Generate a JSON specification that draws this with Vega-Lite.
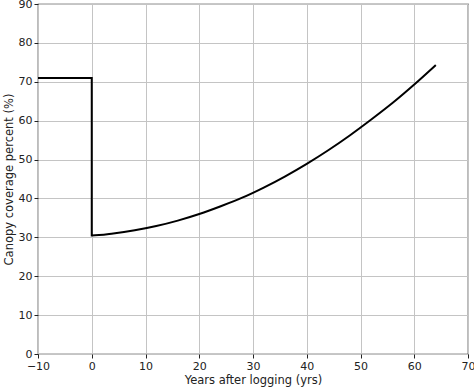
{
  "$schema": "https://vega.github.io/schema/vega-lite/v6.json",
  "width": 430,
  "height": 350,
  "autosize": {"type": "none"},
  "padding": {"left": 38, "top": 4, "right": 6, "bottom": 35},
  "background": "white",
  "config": {
    "view": {"stroke": "#222", "strokeWidth": 1.2},
    "font": "DejaVu Sans",
    "axis": {
      "labelFont": "DejaVu Sans",
      "titleFont": "DejaVu Sans",
      "labelFontSize": 11,
      "titleFontSize": 11.5,
      "titleFontWeight": "normal",
      "labelColor": "#222",
      "titleColor": "#222",
      "gridColor": "#c4c4c4",
      "gridWidth": 1,
      "gridOpacity": 1,
      "domain": false,
      "tickColor": "#222",
      "tickSize": 4,
      "labelPadding": 2
    }
  },
  "data": {
    "values": [
      {"o": 1, "x": -10, "y": 71},
      {"o": 2, "x": 0, "y": 71},
      {"o": 3, "x": 0, "y": 30.5},
      {"o": 4, "x": 4, "y": 31.0},
      {"o": 5, "x": 8, "y": 31.8},
      {"o": 6, "x": 12, "y": 32.9},
      {"o": 7, "x": 16, "y": 34.3},
      {"o": 8, "x": 20, "y": 36.0},
      {"o": 9, "x": 24, "y": 38.0},
      {"o": 10, "x": 28, "y": 40.2},
      {"o": 11, "x": 32, "y": 42.8},
      {"o": 12, "x": 36, "y": 45.7},
      {"o": 13, "x": 40, "y": 48.9},
      {"o": 14, "x": 44, "y": 52.4},
      {"o": 15, "x": 48, "y": 56.2},
      {"o": 16, "x": 52, "y": 60.3},
      {"o": 17, "x": 56, "y": 64.6},
      {"o": 18, "x": 60, "y": 69.3},
      {"o": 19, "x": 64, "y": 74.3}
    ]
  },
  "mark": {"type": "line", "color": "black", "strokeWidth": 2, "interpolate": "monotone", "clip": true},
  "encoding": {
    "order": {"field": "o", "type": "quantitative"},
    "x": {
      "field": "x",
      "type": "quantitative",
      "scale": {"domain": [-10, 70], "nice": false, "zero": false},
      "axis": {"values": [-10, 0, 10, 20, 30, 40, 50, 60, 70], "title": "Years after logging (yrs)", "titlePadding": 3, "labelFlush": false}
    },
    "y": {
      "field": "y",
      "type": "quantitative",
      "scale": {"domain": [0, 90], "nice": false},
      "axis": {"values": [0, 10, 20, 30, 40, 50, 60, 70, 80, 90], "title": "Canopy coverage percent (%)", "titlePadding": 4, "labelFlush": false}
    }
  }
}
